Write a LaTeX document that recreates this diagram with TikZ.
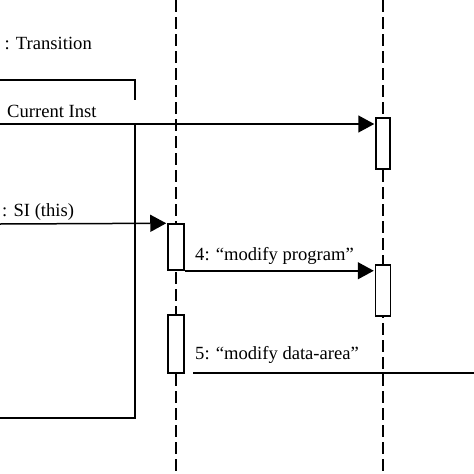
\documentclass[tikz,border=0pt]{standalone}
\usepackage{fontspec}
\setmainfont{Liberation Serif}
\usetikzlibrary{arrows.meta}
\begin{document}
\begin{tikzpicture}[x=1pt,y=-1pt,
  every node/.style={font=\fontsize{18.6}{22}\selectfont},
  line/.style={line width=1.5pt},
  lifeline/.style={line width=1.5pt, dash pattern=on 12pt off 5pt},
  act/.style={draw, line width=1.5pt, fill=white, minimum width=14pt, inner sep=0pt},
  msg/.style={line width=1.5pt, -{Triangle[length=16pt,width=17pt]}, shorten >=1pt},
  lbl/.style={inner sep=0pt, anchor=base west}]
\useasboundingbox (0,0) rectangle (474,474);
% lifelines
\coordinate (L1top) at (176,0);
\coordinate (L1bot) at (176,474);
\coordinate (L2top) at (383,0);
\coordinate (L2bot) at (383,474);
\draw[lifeline] (L1top) -- (L1bot);
\draw[lifeline] (L2top) -- (L2bot);
% frame
\coordinate (f1) at (0,80);
\coordinate (f2) at (135,80);
\coordinate (f3) at (135,100);
\coordinate (f4) at (135,124);
\coordinate (f5) at (135,418);
\coordinate (f6) at (0,418);
\draw[line] (f1) -- (f2) -- (f3);
\draw[line] (f4) -- (f5) -- (f6);
% activation boxes
\node[act, minimum width=14pt, minimum height=51pt] (A1) at (383,143.5) {};
\node[act, minimum width=16pt, minimum height=46pt] (B1) at (176,247) {};
\node[act, minimum width=15pt, minimum height=51pt] (A2) at (383,290.5) {};
\node[act, minimum width=16pt, minimum height=58pt] (B2) at (176,344) {};
% texts
\node[inner sep=0pt, anchor=base east] (t1) at (92,49) {: Transition};
\node[lbl] (t2) at (7,117) {Current Inst};
\node[lbl] (t3) at (2,216) {: SI (this)};
\node[lbl] (t4) at (195,260) {4: “modify program”};
\node[lbl] (t5) at (195,359) {5: “modify data-area”};
% messages
\coordinate (m2) at (0,124);
\draw[msg] (m2) -- (m2 -| A1.west);
\coordinate (m3) at (0,224);
\draw[msg] (m3) -- (B1.north west);
\coordinate (m4) at (B1.south east);
\draw[msg] (m4) -- (m4 -| A2.west);
\coordinate (m5a) at (193,373);
\coordinate (m5b) at (474,373);
\draw[line] (m5a) -- (m5b);
\end{tikzpicture}
\end{document}
